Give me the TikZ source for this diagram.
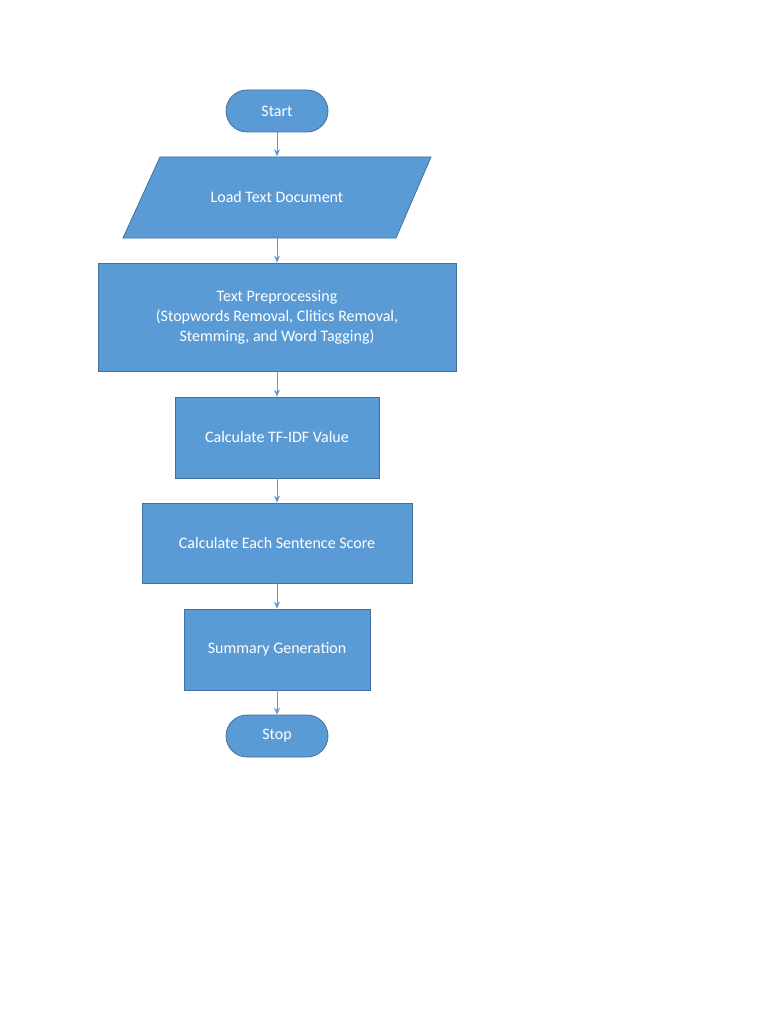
\documentclass[tikz,border=0pt]{standalone}
\usepackage{fontspec}
\setmainfont{Carlito}
\usetikzlibrary{arrows.meta}
\definecolor{boxblue}{HTML}{5B9BD5}
\definecolor{edgeblue}{HTML}{41719C}
\begin{document}
\begin{tikzpicture}[x=1pt,y=-1pt,
  box/.style={draw=edgeblue,line width=0.8pt,fill=boxblue,text=white,font=\fontsize{16}{20}\selectfont,align=center,inner sep=0pt},
  pill/.style={box,rounded corners=21pt},
  conn/.style={draw=boxblue,line width=1pt,-{Stealth[length=7pt,width=6pt]}}]
\useasboundingbox (0,0) rectangle (768,1024);
\node[pill,minimum width=102pt,minimum height=42pt] (start) at (277,111) {Start};
\draw[box] (160,157) -- (431,157) -- (396,238) -- (123,238) -- cycle;
\node[text=white,font=\fontsize{16}{20}\selectfont,minimum width=273pt,minimum height=81pt,inner sep=0pt] (load) at (277,197) {Load Text Document};
\node[box,minimum width=358pt,minimum height=108pt] (pre) at (277,317) {Text Preprocessing\\(Stopwords Removal, Clitics Removal,\\Stemming, and Word Tagging)};
\node[box,minimum width=204pt,minimum height=81pt] (tf) at (277,437.5) {Calculate TF-IDF Value};
\node[box,minimum width=270pt,minimum height=80pt] (sc) at (277,543) {Calculate Each Sentence Score};
\node[box,minimum width=186pt,minimum height=81pt] (sum) at (277,649.5) {Summary Generation};
\node[pill,minimum width=102pt,minimum height=42pt] (stop) at (277,736) {Stop};
\draw[conn] (start) -- (load);
\draw[conn] (load) -- (pre);
\draw[conn] (pre) -- (tf);
\draw[conn] (tf) -- (sc);
\draw[conn] (sc) -- (sum);
\draw[conn] (sum) -- (stop);
\end{tikzpicture}
\end{document}
